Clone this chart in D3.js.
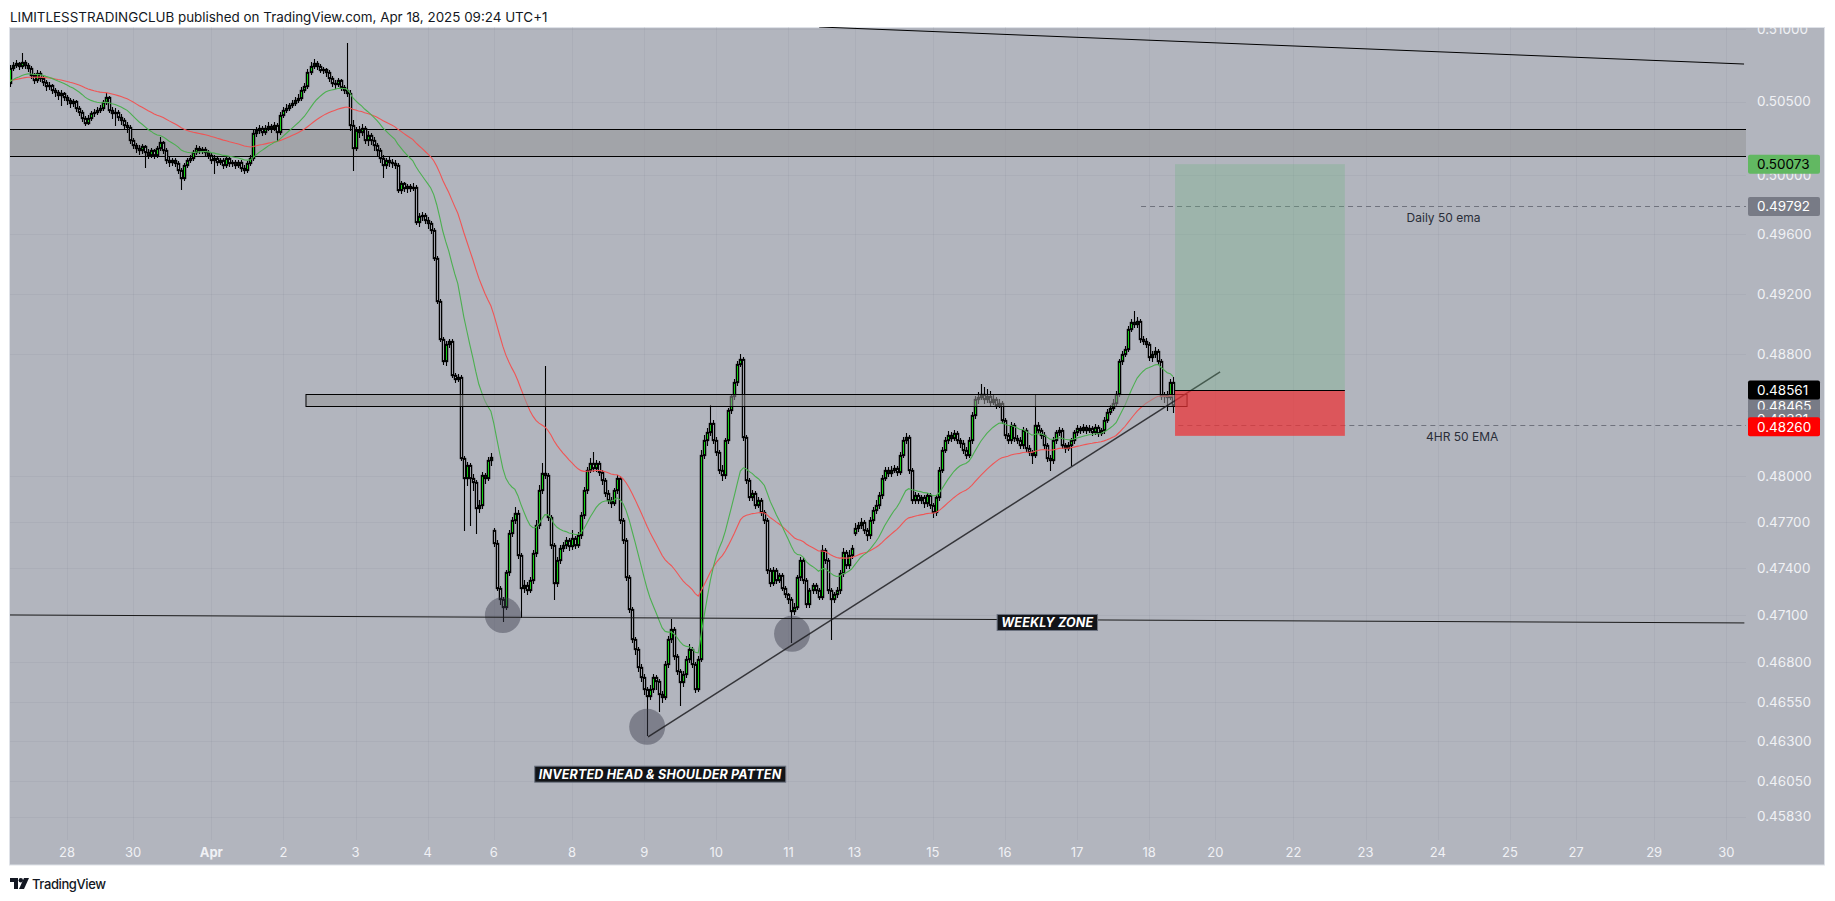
<!DOCTYPE html>
<html><head><meta charset="utf-8">
<script src="https://cdn.jsdelivr.net/npm/d3@7"></script>
<style>
html,body{margin:0;padding:0;background:#fff;}
svg{display:block;}
text{font-family:Inter,"Noto Sans",Roboto,sans-serif;}
</style></head>
<body>
<svg id="chart" width="1835" height="901"></svg>
<script>
// ---------------- DATA (prices in units of 0.00001) ----------------
const firstOpen = 50629;
const weekendOpens = [[161, 47649], [281, 47629]];
const closes = [50731,50752,50765,50745,50772,50752,50731,50684,50649,50697,50663,50636,50608,50615,50581,50568,50547,50561,50533,50513,
50493,50506,50458,50431,50390,50356,50390,50424,50431,50445,50458,50499,50533,50445,50424,50431,50397,50377,50342,50329,
50240,50206,50186,50172,50199,50158,50138,50172,50138,50186,50227,50172,50104,50090,50104,50083,50036,49981,50070,50104,
50117,50158,50186,50172,50179,50158,50138,50104,50117,50090,50104,50070,50117,50083,50090,50070,50090,50049,50036,50083,
50117,50288,50308,50322,50295,50322,50336,50322,50342,50295,50411,50445,50458,50479,50493,50513,50527,50581,50608,50704,
50745,50765,50745,50718,50724,50704,50663,50629,50622,50649,50602,50581,50561,50342,50186,50308,50295,50322,50240,50274,
50240,50206,50172,50117,50070,50104,50090,50083,50070,49899,49947,49913,49927,49913,49920,49681,49722,49729,49695,49674,
49626,49442,49150,48897,48751,48864,48884,48658,48632,48645,48117,47987,48072,47987,47961,47792,47811,48007,47987,48104,
48124,47564,47276,47200,47155,47378,47629,47714,47759,47486,47276,47295,47264,47327,47499,47681,47909,48020,48007,47733,
47551,47308,47454,47532,47551,47584,47545,47597,47551,47616,47746,47909,48039,48085,48052,48085,48026,47974,47890,47844,
47825,47909,47987,47714,47584,47346,47136,46946,46882,46767,46704,46628,46583,46628,46704,46678,46596,46577,46787,46946,
47009,46837,46742,46672,46723,46818,46882,46787,46628,46818,48137,48235,48287,48345,48235,48157,48039,48007,48235,48430,
48519,48612,48731,48765,48254,47974,47864,47890,47811,47844,47766,47714,47391,47308,47391,47327,47359,47276,47232,47200,
47124,47155,47346,47454,47327,47168,47264,47295,47264,47219,47519,47454,47264,47200,47232,47264,47372,47505,47423,47486,
47532,47662,47681,47701,47649,47616,47714,47779,47811,47877,47987,48039,48020,48039,48052,48026,48137,48235,48254,48039,
47844,47877,47844,47864,47825,47877,47811,47766,47864,48039,48170,48235,48267,48248,48280,48235,48215,48170,48137,48235,
48397,48499,48512,48532,48499,48519,48482,48499,48462,48475,48365,48267,48235,48332,48248,48235,48202,48300,48183,48157,
48137,48332,48300,48267,48202,48117,48104,48235,48287,48300,48202,48183,48202,48235,48287,48313,48300,48319,48300,48313,
48287,48319,48280,48300,48365,48417,48443,48475,48532,48751,48798,48831,48964,49010,48997,49017,48897,48884,48864,48778,
48798,48818,48751,48519,48526,48512,48612,48465];
const highs = [50752,50772,50786,50772,50834,50786,50765,50745,50697,50718,50711,50677,50649,50636,50622,50595,50581,50581,50568,50547,
50527,50520,50513,50472,50445,50404,50411,50438,50452,50465,50479,50513,50561,50540,50465,50458,50445,50418,50390,50363,
50342,50254,50220,50206,50213,50206,50179,50186,50179,50199,50261,50233,50186,50124,50117,50117,50097,50049,50083,50117,
50138,50172,50206,50199,50192,50192,50172,50152,50138,50131,50117,50117,50131,50131,50104,50104,50104,50104,50070,50097,
50138,50308,50329,50342,50336,50342,50363,50349,50363,50356,50431,50465,50486,50493,50513,50533,50554,50602,50629,50724,
50772,50793,50779,50759,50738,50731,50718,50677,50649,50663,50656,50615,50902,50581,50377,50329,50336,50349,50336,50302,
50288,50261,50220,50186,50138,50117,50124,50111,50104,50083,49961,49954,49940,49940,49947,49933,49742,49749,49742,49715,
49688,49640,49455,49163,48911,48884,48897,48897,48672,48665,48658,48130,48091,48085,48013,47974,47844,48026,48020,48124,
48150,47662,47584,47289,47213,47391,47649,47733,47798,47779,47499,47327,47314,47346,47519,47714,47942,48085,48718,48020,
47746,47564,47473,47551,47571,47603,47597,47649,47610,47636,47766,47929,48059,48117,48157,48104,48098,48039,47987,47909,
47864,47922,48007,48000,47727,47597,47359,47149,46958,46895,46787,46723,46640,46653,46723,46717,46691,46615,46806,46965,
47073,47022,46850,46755,46742,46837,46914,46895,46799,46837,48170,48267,48313,48462,48365,48254,48170,48072,48248,48443,
48532,48632,48751,48798,48778,48267,47987,47909,47903,47864,47857,47779,47727,47403,47410,47403,47372,47372,47289,47244,
47213,47175,47359,47473,47467,47340,47276,47308,47308,47276,47551,47532,47467,47276,47251,47283,47391,47532,47519,47519,
47551,47694,47701,47727,47714,47662,47733,47798,47844,47896,48007,48059,48059,48065,48072,48065,48157,48254,48280,48267,
48052,47896,47890,47877,47877,47890,47890,47825,47877,48059,48189,48254,48293,48287,48300,48293,48248,48235,48189,48254,
48417,48519,48545,48599,48579,48566,48552,48526,48512,48499,48488,48378,48280,48352,48345,48267,48254,48319,48313,48202,
48170,48532,48352,48313,48287,48215,48137,48254,48300,48319,48313,48215,48222,48248,48300,48332,48326,48339,48332,48332,
48326,48339,48332,48313,48384,48436,48462,48499,48552,48765,48818,48851,48984,49030,49083,49044,49030,48917,48904,48877,
48818,48844,48831,48765,48545,48552,48632,48645];
const lows = [50608,50718,50738,50724,50731,50731,50711,50663,50629,50636,50643,50615,50581,50588,50561,50540,50520,50479,50513,50486,
50465,50472,50438,50411,50370,50342,50349,50377,50404,50418,50431,50445,50486,50431,50390,50342,50377,50349,50322,50295,
50220,50186,50158,50145,50152,50056,50117,50124,50117,50124,50172,50152,50083,50063,50070,50063,50015,49906,49967,50056,
50090,50104,50145,50152,50152,50138,50117,50083,50015,50070,50077,50049,50056,50063,50063,50049,50056,50029,50015,50022,
50070,50104,50267,50288,50274,50281,50308,50295,50308,50240,50281,50397,50431,50445,50465,50479,50499,50513,50568,50595,
50690,50731,50724,50704,50697,50677,50643,50608,50595,50608,50581,50561,50540,50308,50036,50172,50261,50274,50220,50206,
50213,50172,50138,50090,49988,50049,50063,50056,50049,49886,49879,49892,49886,49892,49899,49667,49654,49695,49674,49640,
49608,49429,49136,48884,48731,48725,48844,48645,48612,48618,48104,47649,47942,47681,47909,47629,47766,47792,47955,47974,
48072,47545,47264,47168,47060,47136,47359,47610,47694,47467,47085,47251,47238,47251,47308,47480,47662,47890,47987,47714,
47532,47200,47289,47435,47512,47532,47519,47525,47532,47538,47597,47727,47890,48026,48033,48033,48007,47948,47870,47825,
47798,47811,47890,47694,47564,47327,47117,46926,46850,46742,46678,46596,46341,46564,46608,46628,46488,46545,46564,46767,
46926,46818,46723,46532,46647,46704,46799,46767,46608,46615,46806,48117,48202,48267,48215,48137,48020,47974,47987,48215,
48410,48499,48592,48718,48235,47955,47844,47844,47792,47798,47746,47694,47372,47289,47295,47308,47314,47264,47213,47175,
46926,47105,47136,47327,47308,47149,47155,47244,47244,47200,47200,47435,47244,46946,47181,47213,47244,47353,47403,47403,
47467,47616,47642,47662,47629,47584,47597,47694,47759,47792,47857,47974,48000,48000,48026,48007,48013,48124,48215,48020,
47825,47825,47825,47825,47798,47805,47792,47733,47746,47844,48026,48157,48215,48228,48235,48215,48189,48150,48117,48124,
48215,48378,48475,48499,48475,48482,48462,48469,48443,48449,48345,48248,48215,48215,48228,48215,48183,48183,48163,48137,
48085,48124,48280,48248,48183,48098,48039,48085,48215,48267,48183,48157,48170,48072,48215,48267,48280,48287,48280,48287,
48267,48274,48261,48267,48280,48352,48404,48430,48462,48519,48731,48784,48818,48950,48977,48977,48877,48864,48844,48758,
48751,48778,48731,48499,48482,48430,48499,48417];
const PRICE_UNIT = 1e-5;

// EMA settings (periods and starting values)
const emaFastPeriod = 20, emaSlowPeriod = 50;
const emaFastSeed = 50630, emaSlowSeed = 50640;

// time axis: 1H forex bars, first bar 2025-03-27 05:00 (UTC+1)
const firstBarTime = "2025-03-27T05:00:00Z";
const tickDays   = ["2025-03-28","2025-03-30","2025-04-01","2025-04-02","2025-04-03","2025-04-04","2025-04-06","2025-04-08","2025-04-09","2025-04-10","2025-04-11","2025-04-13","2025-04-15","2025-04-16","2025-04-17","2025-04-18","2025-04-20","2025-04-22","2025-04-23","2025-04-24","2025-04-25","2025-04-27","2025-04-29","2025-04-30"];
const tickLabels = ["28","30","Apr","2","3","4","6","8","9","10","11","13","15","16","17","18","20","22","23","24","25","27","29","30"];

// price axis ticks
const priceTicks = [0.51, 0.505, 0.50, 0.496, 0.492, 0.488, 0.48, 0.477, 0.474, 0.471, 0.468, 0.4655, 0.463, 0.4605, 0.4583];

// annotations (bar index, price)
const topZone = [0.50312, 0.50129];
const midZone = {bars: [98.5, 391.6], prices: [0.48535, 0.48455]};
const topTrend = [[269.2, 0.51014], [576.9, 0.50758]];
const weeklyLine = [[0, 0.47101], [577, 0.47050]];
const riseTrend = [[212.3, 0.46328], [402.6, 0.48681]];
const pivots = [[164.0, 0.47100], [212.0, 0.46391], [260.2, 0.46981]];
const position = {bars: [387.6, 444.1], entry: 0.48561, target: 0.50073, stop: 0.48260};
const dailyEma = {price: 0.49792, fromBar: 376.3, label: "Daily 50 ema"};
const h4Ema = {price: 0.48331, fromBar: 388.7, label: "4HR 50 EMA"};
const patternLabel = {bar: 216.3, price: 0.46094, text: "INVERTED HEAD & SHOULDER PATTEN"};
const weeklyLabel = {bar: 345.1, price: 0.47053, text: "WEEKLY ZONE"};

// ---------------- BUILD ----------------
const bars = closes.map((c, i) => {
  let o = i === 0 ? firstOpen : closes[i - 1];
  const g = weekendOpens.find(w => w[0] === i);
  if (g) o = g[1];
  const h = Math.max(highs[i], o, c), l = Math.min(lows[i], o, c);
  return {o: o * PRICE_UNIT, h: h * PRICE_UNIT, l: l * PRICE_UNIT, c: c * PRICE_UNIT};
});
function ema(period, seed) {
  const a = 2 / (period + 1); let v = seed * PRICE_UNIT;
  return bars.map(b => (v = v + a * (b.c - v)));
}
const emaFast = ema(emaFastPeriod, emaFastSeed);
const emaSlow = ema(emaSlowPeriod, emaSlowSeed);

function buildTimes(n) {
  const out = []; let ms = Date.parse(firstBarTime);
  while (out.length < n) {
    const d = new Date(ms), dow = d.getUTCDay(), hr = d.getUTCHours();
    const closed = (dow === 5 && hr >= 22) || dow === 6 || (dow === 0 && hr < 22);
    if (!closed) out.push(ms);
    ms += 3600e3;
  }
  return out;
}
const times = buildTimes(700);
const tickIdx = tickDays.map(ds => times.findIndex(t => new Date(t).toISOString().slice(0, 10) === ds));

const P = {left: 10, top: 27, right: 1746, bottom: 840};
const x = d3.scaleLinear().domain([0, 1]).range([9.9, 9.9 + 3.006]);
const y = d3.scaleLog().domain([0.510138, 0.456965]).range([27, 838]);

const BG = "#b2b5be";
const svg = d3.select("#chart");
const defs = svg.append("defs");
defs.append("clipPath").attr("id", "clip").append("rect")
  .attr("x", P.left).attr("y", P.top).attr("width", P.right - P.left).attr("height", P.bottom - P.top);
defs.append("clipPath").attr("id", "clipAxis").append("rect")
  .attr("x", P.right).attr("y", P.top).attr("width", 80).attr("height", P.bottom - P.top);

// header
svg.append("text").attr("x", 10).attr("y", 22).attr("font-size", 13.4).attr("fill", "#131722")
  .text("LIMITLESSTRADINGCLUB published on TradingView.com, Apr 18, 2025 09:24 UTC+1");

// background
svg.append("rect").attr("x", 9.5).attr("y", 27.5).attr("width", 1815).attr("height", 837.5)
  .attr("fill", BG).attr("stroke", "#dfe2e8");

const plot = svg.append("g").attr("clip-path", "url(#clip)");

// grid
plot.selectAll("line.hg").data(priceTicks).join("line")
  .attr("x1", P.left).attr("x2", P.right).attr("y1", d => Math.round(y(d)) + 0.5).attr("y2", d => Math.round(y(d)) + 0.5)
  .attr("stroke", "rgba(95,100,115,0.08)");
plot.selectAll("line.vg").data(tickIdx).join("line")
  .attr("x1", d => Math.round(x(d)) + 0.5).attr("x2", d => Math.round(x(d)) + 0.5).attr("y1", P.top).attr("y2", P.bottom)
  .attr("stroke", "rgba(95,100,115,0.08)");

// top zone
plot.append("rect").attr("x", P.left).attr("width", P.right - P.left)
  .attr("y", y(topZone[0])).attr("height", y(topZone[1]) - y(topZone[0]))
  .attr("fill", "rgba(150,150,152,0.55)");
[topZone[0], topZone[1]].forEach(p => plot.append("line").attr("x1", P.left).attr("x2", P.right)
  .attr("y1", Math.round(y(p)) + 0.5).attr("y2", Math.round(y(p)) + 0.5).attr("stroke", "#000"));

// candles
const cg = plot.append("g");
cg.selectAll("line.w").data(bars).join("line")
  .attr("x1", (d, i) => Math.round(x(i)) + 0.5).attr("x2", (d, i) => Math.round(x(i)) + 0.5)
  .attr("y1", d => Math.round(y(d.h))).attr("y2", d => Math.round(y(d.l)) + 1)
  .attr("stroke", "#000").attr("stroke-width", 1.1);
cg.selectAll("rect.b").data(bars).join("rect")
  .attr("x", (d, i) => Math.round(x(i)) - 0.6)
  .attr("y", d => Math.round(y(Math.max(d.o, d.c))) + 0.5)
  .attr("width", 2.2)
  .attr("height", d => Math.max(1, Math.round(y(Math.min(d.o, d.c))) - Math.round(y(Math.max(d.o, d.c)))))
  .attr("fill", d => d.c >= d.o ? "#16e316" : BG)
  .attr("stroke", "#000").attr("stroke-width", 1.3);

// EMAs
const ln = d3.line().x((d, i) => x(i)).y(d => y(d));
plot.append("path").attr("d", ln(emaSlow)).attr("fill", "none").attr("stroke", "#f05555").attr("stroke-width", 1.1);
plot.append("path").attr("d", ln(emaFast)).attr("fill", "none").attr("stroke", "#4caf50").attr("stroke-width", 1.1);

// mid zone
plot.append("rect").attr("x", x(midZone.bars[0])).attr("width", x(midZone.bars[1]) - x(midZone.bars[0]))
  .attr("y", Math.round(y(midZone.prices[0])) + 0.5).attr("height", Math.round(y(midZone.prices[1])) - Math.round(y(midZone.prices[0])))
  .attr("fill", "rgba(150,150,152,0.55)").attr("stroke", "#000").attr("stroke-width", 1);

// pivot circles
plot.selectAll("circle.pv").data(pivots).join("circle")
  .attr("cx", d => x(d[0])).attr("cy", d => y(d[1])).attr("r", 18)
  .attr("fill", "rgba(60,62,78,0.45)");

// lines
const seg = (pts, color, w) => plot.append("line")
  .attr("x1", x(pts[0][0])).attr("y1", y(pts[0][1])).attr("x2", x(pts[1][0])).attr("y2", y(pts[1][1]))
  .attr("stroke", color).attr("stroke-width", w);
seg(topTrend, "#000", 1);
seg(weeklyLine, "#1a1a1a", 1);
seg(riseTrend, "rgba(30,30,34,0.85)", 1.5);

// dashed EMA reference lines (drawn under the position boxes)
const dashG = plot.append("g");
[dailyEma, h4Ema].forEach(e => {
  const yy = Math.round(y(e.price)) + 0.5, xs = x(e.fromBar);
  dashG.append("line").attr("x1", xs).attr("x2", P.right).attr("y1", yy).attr("y2", yy)
    .attr("stroke", "#6f727d").attr("stroke-dasharray", "5,4");
  plot.append("text").attr("x", (xs + P.right) / 2).attr("y", yy + 15).attr("text-anchor", "middle")
    .attr("font-size", 12).attr("fill", "#2a2e39").text(e.label);
});

// position tool
const px0 = x(position.bars[0]), px1 = x(position.bars[1]);
plot.append("rect").attr("x", px0).attr("width", px1 - px0).attr("y", y(position.target)).attr("height", y(position.entry) - y(position.target))
  .attr("fill", "rgba(110,178,130,0.30)");
plot.append("rect").attr("x", px0).attr("width", px1 - px0).attr("y", y(position.entry)).attr("height", y(position.stop) - y(position.entry))
  .attr("fill", "rgba(235,50,52,0.72)");
plot.append("line").attr("x1", px0).attr("x2", px1).attr("y1", Math.round(y(position.entry)) + 0.5).attr("y2", Math.round(y(position.entry)) + 0.5)
  .attr("stroke", "#000");

// boxed labels
function boxLabel(l) {
  const g = plot.append("g").attr("transform", `translate(${x(l.bar)},${y(l.price)})`);
  const t = g.append("text").attr("text-anchor", "middle").attr("dy", "0.35em")
    .attr("font-size", 12.5).attr("font-weight", 700).attr("font-style", "italic").attr("fill", "#fff")
    .attr("letter-spacing", 0.2).text(l.text);
  const bb = t.node().getBBox();
  g.insert("rect", "text").attr("x", bb.x - 4).attr("y", -8).attr("width", bb.width + 8).attr("height", 16)
    .attr("fill", "#121418").attr("stroke", "#6b7280").attr("stroke-width", 1);
}
boxLabel(patternLabel);
boxLabel(weeklyLabel);

// price axis tick labels
const ax = svg.append("g").attr("clip-path", "url(#clipAxis)");
ax.selectAll("text.pt").data(priceTicks).join("text")
  .attr("x", 1757).attr("y", d => y(d)).attr("dy", "0.36em").attr("font-size", 13.5)
  .attr("fill", "#f0f1f5").text(d => d.toFixed(5));

// price marker labels (draw order matters)
const lastPrice = bars[bars.length - 1].c;
const markers = [
  {p: position.target, bg: "#62b862", fg: "#000", dy: 0},
  {p: dailyEma.price, bg: "#787b86", fg: "#fff", dy: 1},
  {p: lastPrice, bg: "#787b86", fg: "#fff", dy: 1.5},
  {p: h4Ema.price, bg: "#787b86", fg: "#fff", dy: -6},
  {p: position.stop, bg: "#ff0000", fg: "#fff", dy: -9},
  {p: position.entry, bg: "#000000", fg: "#fff", dy: 0}
];
markers.forEach(m => {
  const cy = y(m.p) + m.dy;
  ax.append("rect").attr("x", 1748).attr("y", cy - 9.5).attr("width", 72).attr("height", 19).attr("rx", 2)
    .attr("fill", m.bg);
  ax.append("text").attr("x", 1757).attr("y", cy).attr("dy", "0.36em").attr("font-size", 13.5)
    .attr("fill", m.fg).text(m.p.toFixed(5));
});

// time axis labels
svg.selectAll("text.tl").data(tickIdx).join("text")
  .attr("x", d => x(d)).attr("y", 852).attr("dy", "0.35em").attr("text-anchor", "middle")
  .attr("font-size", 13).attr("fill", "#f0f1f5")
  .attr("font-weight", (d, i) => tickLabels[i] === "Apr" ? 700 : 400)
  .text((d, i) => tickLabels[i]);

// footer logo
const lg = svg.append("g").attr("transform", "translate(10,878)");
lg.append("path").attr("d", "M0,0 H8 V11 H4 V4 H0 Z").attr("fill", "#131722");
lg.append("circle").attr("cx", 10.8).attr("cy", 2.2).attr("r", 2.2).attr("fill", "#131722");
lg.append("path").attr("d", "M14,0 H19 L14,11 H9 Z").attr("fill", "#131722");
svg.append("text").attr("x", 32).attr("y", 889).attr("font-size", 13).attr("font-weight", 500)
  .attr("fill", "#131722").attr("letter-spacing", -0.4).text("TradingView");
</script>
</body></html>
